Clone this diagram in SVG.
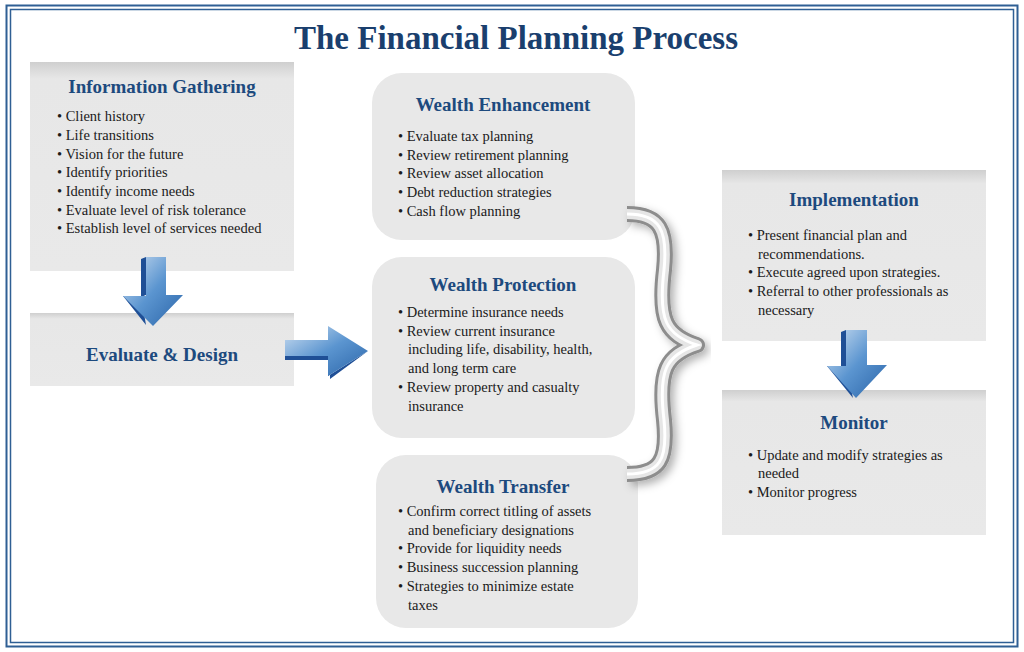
<svg xmlns="http://www.w3.org/2000/svg" width="1024" height="652" viewBox="0 0 1024 652">
<defs>
<linearGradient id="boxg" x1="0" y1="0" x2="0" y2="1"><stop offset="0" stop-color="#cfcfcf"/><stop offset="0.08" stop-color="#e7e7e7"/><stop offset="1" stop-color="#e9e9e9"/></linearGradient>
<linearGradient id="arr" x1="0" y1="0" x2="1" y2="1"><stop offset="0" stop-color="#cfe0f2"/><stop offset="0.5" stop-color="#5b95d0"/><stop offset="1" stop-color="#2a64a8"/></linearGradient>
<linearGradient id="br" x1="0" y1="0" x2="1" y2="0"><stop offset="0" stop-color="#8a8a8a"/><stop offset="0.5" stop-color="#f4f4f4"/><stop offset="1" stop-color="#7a7a7a"/></linearGradient>
<filter id="sh" x="-20%" y="-10%" width="140%" height="130%"><feDropShadow dx="4" dy="4" stdDeviation="4" flood-color="#000" flood-opacity="0.3"/></filter>
</defs>
<style>
.h{font-family:"Liberation Serif",serif;font-weight:bold;font-size:19px;fill:#1d4a7e;text-anchor:middle}
.t{font-family:"Liberation Serif",serif;font-size:14.5px;fill:#1a1a1a}
.box{fill:url(#boxg)}
.rbox{fill:#e8e8e8}
.a{fill:url(#arr)}
.ad{fill:#1f4f96}
</style>
<rect width="1024" height="652" fill="#fff"/>
<rect x="6.5" y="5.5" width="1011" height="641" fill="none" stroke="#2f5f94" stroke-width="2"/>
<rect x="10.5" y="9.5" width="1003" height="633" fill="none" stroke="#2f5f94" stroke-width="1.5"/>
<text x="516" y="49" style="font-family:'Liberation Serif',serif;font-weight:bold;font-size:33px;fill:#1a3f6e;text-anchor:middle">The Financial Planning Process</text>

<g id="info-gathering">
<rect class="box" x="30" y="62" width="264" height="209"/>
<text class="h" x="162" y="93">Information Gathering</text>
<g class="t"><text x="57" y="121">• Client history</text><text x="57" y="140">• Life transitions</text><text x="57" y="159">• Vision for the future</text><text x="57" y="177">• Identify priorities</text><text x="57" y="196">• Identify income needs</text><text x="57" y="215">• Evaluate level of risk tolerance</text><text x="57" y="233">• Establish level of services needed</text></g>
</g>
<g id="evaluate-design">
<rect class="box" x="30" y="313" width="264" height="73"/>
<text class="h" x="162" y="361">Evaluate &amp; Design</text>
</g>
<g id="wealth-enhancement">
<rect class="rbox" x="372" y="73" width="263" height="167" rx="30"/>
<text class="h" x="503" y="111">Wealth Enhancement</text>
<g class="t"><text x="398" y="141">• Evaluate tax planning</text><text x="398" y="160">• Review retirement planning</text><text x="398" y="178">• Review asset allocation</text><text x="398" y="197">• Debt reduction strategies</text><text x="398" y="216">• Cash flow planning</text></g>
</g>
<g id="wealth-protection">
<rect class="rbox" x="372" y="257" width="263" height="181" rx="30"/>
<text class="h" x="503" y="291">Wealth Protection</text>
<g class="t"><text x="398" y="317">• Determine insurance needs</text><text x="398" y="336">• Review current insurance</text><text x="408" y="354">including life, disability, health,</text><text x="408" y="373">and long term care</text><text x="398" y="392">• Review property and casualty</text><text x="408" y="411">insurance</text></g>
</g>
<g id="wealth-transfer">
<rect class="rbox" x="376" y="455" width="262" height="173" rx="30"/>
<text class="h" x="503" y="493">Wealth Transfer</text>
<g class="t"><text x="398" y="516">• Confirm correct titling of assets</text><text x="408" y="535">and beneficiary designations</text><text x="398" y="553">• Provide for liquidity needs</text><text x="398" y="572">• Business succession planning</text><text x="398" y="591">• Strategies to minimize estate</text><text x="408" y="610">taxes</text></g>
</g>
<g id="implementation">
<rect class="box" x="722" y="170" width="264" height="171"/>
<text class="h" x="854" y="206">Implementation</text>
<g class="t"><text x="748" y="240">• Present financial plan and</text><text x="758" y="259">recommendations.</text><text x="748" y="277">• Execute agreed upon strategies.</text><text x="748" y="296">• Referral to other professionals as</text><text x="758" y="315">necessary</text></g>
</g>
<g id="monitor">
<rect class="box" x="722" y="390" width="264" height="145"/>
<text class="h" x="854" y="429">Monitor</text>
<g class="t"><text x="748" y="460">• Update and modify strategies as</text><text x="758" y="478">needed</text><text x="748" y="497">• Monitor progress</text></g>
</g>

<g id="connectors">
<g id="arrow-down-1">
<path class="ad" d="M141 259 L146 257 L146 295 L141 297 Z M123 296 L141 296 L146 325 Z"/>
<path class="a" d="M146 257 L166 257 L166 295 L183 295 L153 326 L123 296 L146 296 Z"/>
</g>
<g id="arrow-right">
<path class="ad" d="M285 355 L328 355 L328 376 L368 351 L330 379 L330 360 L285 360 Z"/>
<path class="a" d="M285 340 L328 340 L328 326 L368 351 L328 376 L328 356 L285 356 Z"/>
</g>
<g id="arrow-down-2">
<path class="ad" d="M841 332 L846 330 L846 366 L841 368 Z M827 366 L846 366 L853 398 Z"/>
<path class="a" d="M846 330 L867 330 L867 365 L887 365 L856 398 L827 366 L846 366 Z"/>
</g>
<g id="brace" filter="url(#sh)">
<path d="M627 214 C 660 214, 668 230, 664 270 C 658 320, 666 335, 697 345 C 666 355, 658 370, 664 420 C 668 460, 660 474, 627 474" fill="none" stroke="#8d8d8d" stroke-width="16" stroke-linejoin="round"/>
<path d="M627 214 C 660 214, 668 230, 664 270 C 658 320, 666 335, 697 345 C 666 355, 658 370, 664 420 C 668 460, 660 474, 627 474" fill="none" stroke="#e6e6e6" stroke-width="10" stroke-linejoin="round"/>
<path d="M627 214 C 660 214, 668 230, 664 270 C 658 320, 666 335, 697 345 C 666 355, 658 370, 664 420 C 668 460, 660 474, 627 474" fill="none" stroke="#fff" stroke-width="3"/>
</g>
</g>
</svg>
